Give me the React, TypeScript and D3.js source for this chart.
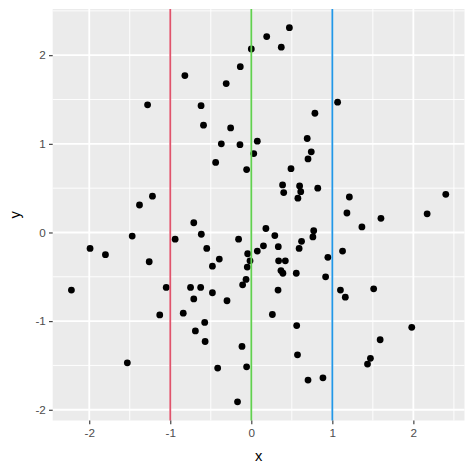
import React, { useEffect, useRef } from "react";
import * as d3 from "d3";

// points
const xs: number[] = [
  0.0, -0.136, -0.82, -0.31, -1.28, -0.62, -0.59, -0.255, -0.37, -0.14,
  -0.44, -0.058, 0.03, -1.22, -1.38, -0.71, 0.47, 0.19, 0.37, 1.065,
  0.785, 0.69, 0.074, 0.74, 0.7, 0.49, 0.386, 0.596, 0.4, 0.61,
  0.575, 0.82, 1.21, 2.4, 1.18, 2.17, 1.6, 1.365, 0.18, 0.77,
  0.76, -1.47, -0.617, -0.94, -0.157, -1.99, -0.55, -1.8, -0.045, -1.26,
  -0.395, -0.48, -0.016, -0.05, -0.065, -0.107, -2.22, -1.05, -0.75, -0.625,
  -0.48, -0.71, -0.3, -1.13, -0.84, -0.575, -0.69, -0.57, -0.115, -1.53,
  -0.415, -0.058, -0.17, 0.29, 0.15, 0.62, 0.333, 0.59, 0.074, 1.126,
  0.337, 0.42, 0.945, 0.366, 0.39, 0.555, 0.917, 0.33, 1.1, 1.51,
  1.16, 0.26, 0.56, 1.98, 1.59, 0.57, 1.47, 1.434, 0.7, 0.884,
];
const ys: number[] = [
  2.07, 1.87, 1.77, 1.68, 1.44, 1.43, 1.21, 1.18, 1.0, 0.99,
  0.79, 0.71, 0.89, 0.41, 0.31, 0.11, 2.31, 2.21, 2.09, 1.47,
  1.345, 1.06, 1.03, 0.91, 0.83, 0.72, 0.537, 0.525, 0.45, 0.46,
  0.387, 0.5, 0.4, 0.43, 0.22, 0.21, 0.16, 0.063, 0.045, 0.02,
  -0.05, -0.04, -0.02, -0.075, -0.075, -0.18, -0.18, -0.25, -0.24, -0.33,
  -0.3, -0.38, -0.32, -0.39, -0.53, -0.59, -0.65, -0.62, -0.62, -0.62,
  -0.68, -0.75, -0.77, -0.93, -0.91, -1.015, -1.11, -1.23, -1.285, -1.47,
  -1.53, -1.515, -1.91, -0.035, -0.15, -0.1, -0.16, -0.18, -0.21, -0.21,
  -0.32, -0.32, -0.28, -0.43, -0.46, -0.46, -0.5, -0.65, -0.65, -0.636,
  -0.73, -0.925, -1.05, -1.07, -1.21, -1.38, -1.42, -1.485, -1.665, -1.64,
];
const vlines: number[] = [-1, 0, 1];
const vlineColors: string[] = ["#DF536B", "#61D04F", "#2297E6"];
const xTicks: number[] = [-2, -1, 0, 1, 2];
const yTicks: number[] = [-2, -1, 0, 1, 2];

const W = 474,
  H = 474;
const margin = { top: 9, right: 9.5, bottom: 53.5, left: 52.7 };
const font = "'Liberation Sans', Arial, sans-serif";

function expand(ext: [number, number]): [number, number] {
  const pad = (ext[1] - ext[0]) * 0.05;
  return [ext[0] - pad, ext[1] + pad];
}

export default function App(): JSX.Element {
  const ref = useRef<SVGSVGElement>(null);

  useEffect(() => {
    if (!ref.current) return;
    const svg = d3.select(ref.current);
    svg.selectAll("*").remove();

    const x = d3
      .scaleLinear()
      .domain(expand(d3.extent(xs) as [number, number]))
      .range([margin.left, W - margin.right]);
    const y = d3
      .scaleLinear()
      .domain(expand(d3.extent(ys) as [number, number]))
      .range([H - margin.bottom, margin.top]);

    svg
      .append("rect")
      .attr("width", W)
      .attr("height", H)
      .attr("fill", "#FFFFFF");

    svg
      .append("rect")
      .attr("x", margin.left)
      .attr("y", margin.top)
      .attr("width", W - margin.left - margin.right)
      .attr("height", H - margin.top - margin.bottom)
      .attr("fill", "#EBEBEB");

    const [x0, x1] = x.domain();
    const [y0, y1] = y.domain();
    const minorX = d3.range(-2.5, 3, 1).filter((v) => v > x0 && v < x1);
    const minorY = d3.range(-2.5, 3, 1).filter((v) => v > y0 && v < y1);

    const grid = svg.append("g").attr("stroke", "#FFFFFF");
    grid
      .selectAll(".mx")
      .data(minorX)
      .enter()
      .append("line")
      .attr("x1", (d) => x(d))
      .attr("x2", (d) => x(d))
      .attr("y1", margin.top)
      .attr("y2", H - margin.bottom)
      .attr("stroke-width", 0.9);
    grid
      .selectAll(".my")
      .data(minorY)
      .enter()
      .append("line")
      .attr("y1", (d) => y(d))
      .attr("y2", (d) => y(d))
      .attr("x1", margin.left)
      .attr("x2", W - margin.right)
      .attr("stroke-width", 0.9);
    grid
      .selectAll(".gx")
      .data(xTicks)
      .enter()
      .append("line")
      .attr("x1", (d) => x(d))
      .attr("x2", (d) => x(d))
      .attr("y1", margin.top)
      .attr("y2", H - margin.bottom)
      .attr("stroke-width", 1.8);
    grid
      .selectAll(".gy")
      .data(yTicks)
      .enter()
      .append("line")
      .attr("y1", (d) => y(d))
      .attr("y2", (d) => y(d))
      .attr("x1", margin.left)
      .attr("x2", W - margin.right)
      .attr("stroke-width", 1.8);

    svg
      .append("g")
      .selectAll("circle")
      .data(xs.map((v, i) => [v, ys[i]]))
      .enter()
      .append("circle")
      .attr("cx", (d) => x(d[0]))
      .attr("cy", (d) => y(d[1]))
      .attr("r", 3.4)
      .attr("fill", "#000000");

    svg
      .append("g")
      .selectAll("line")
      .data(vlines)
      .enter()
      .append("line")
      .attr("x1", (d) => x(d))
      .attr("x2", (d) => x(d))
      .attr("y1", margin.top)
      .attr("y2", H - margin.bottom)
      .attr("stroke", (d, i) => vlineColors[i])
      .attr("stroke-width", 1.8);

    // x axis
    const gx = svg
      .append("g")
      .attr("transform", "translate(0," + (H - margin.bottom) + ")")
      .call(d3.axisBottom(x).tickValues(xTicks).tickSize(3.7).tickPadding(4.5).tickFormat(d3.format("d")));
    // y axis
    const gy = svg
      .append("g")
      .attr("transform", "translate(" + margin.left + ",0)")
      .call(d3.axisLeft(y).tickValues(yTicks).tickSize(3.7).tickPadding(3.2).tickFormat(d3.format("d")));

    [gx, gy].forEach((g) => {
      g.select(".domain").remove();
      g.selectAll("line").attr("stroke", "#333333").attr("stroke-width", 1.1);
      g.selectAll("text")
        .attr("fill", "#4D4D4D")
        .attr("font-size", 11.7)
        .attr("font-family", font);
    });
    // ggplot uses a hyphen for minus here
    svg.selectAll(".tick text").text((d: any) => String(d));

    svg
      .append("text")
      .attr("x", (margin.left + W - margin.right) / 2)
      .attr("y", 460.5)
      .attr("text-anchor", "middle")
      .attr("font-size", 14.7)
      .attr("font-family", font)
      .attr("fill", "#000000")
      .text("x");

    svg
      .append("text")
      .attr(
        "transform",
        "translate(19.5," + (margin.top + H - margin.bottom) / 2 + ") rotate(-90)"
      )
      .attr("text-anchor", "middle")
      .attr("font-size", 14.7)
      .attr("font-family", font)
      .attr("fill", "#000000")
      .text("y");
  }, []);

  return (
    <svg
      ref={ref}
      width={W}
      height={H}
      style={{ position: "absolute", left: 0, top: 0 }}
    ></svg>
  );
}
